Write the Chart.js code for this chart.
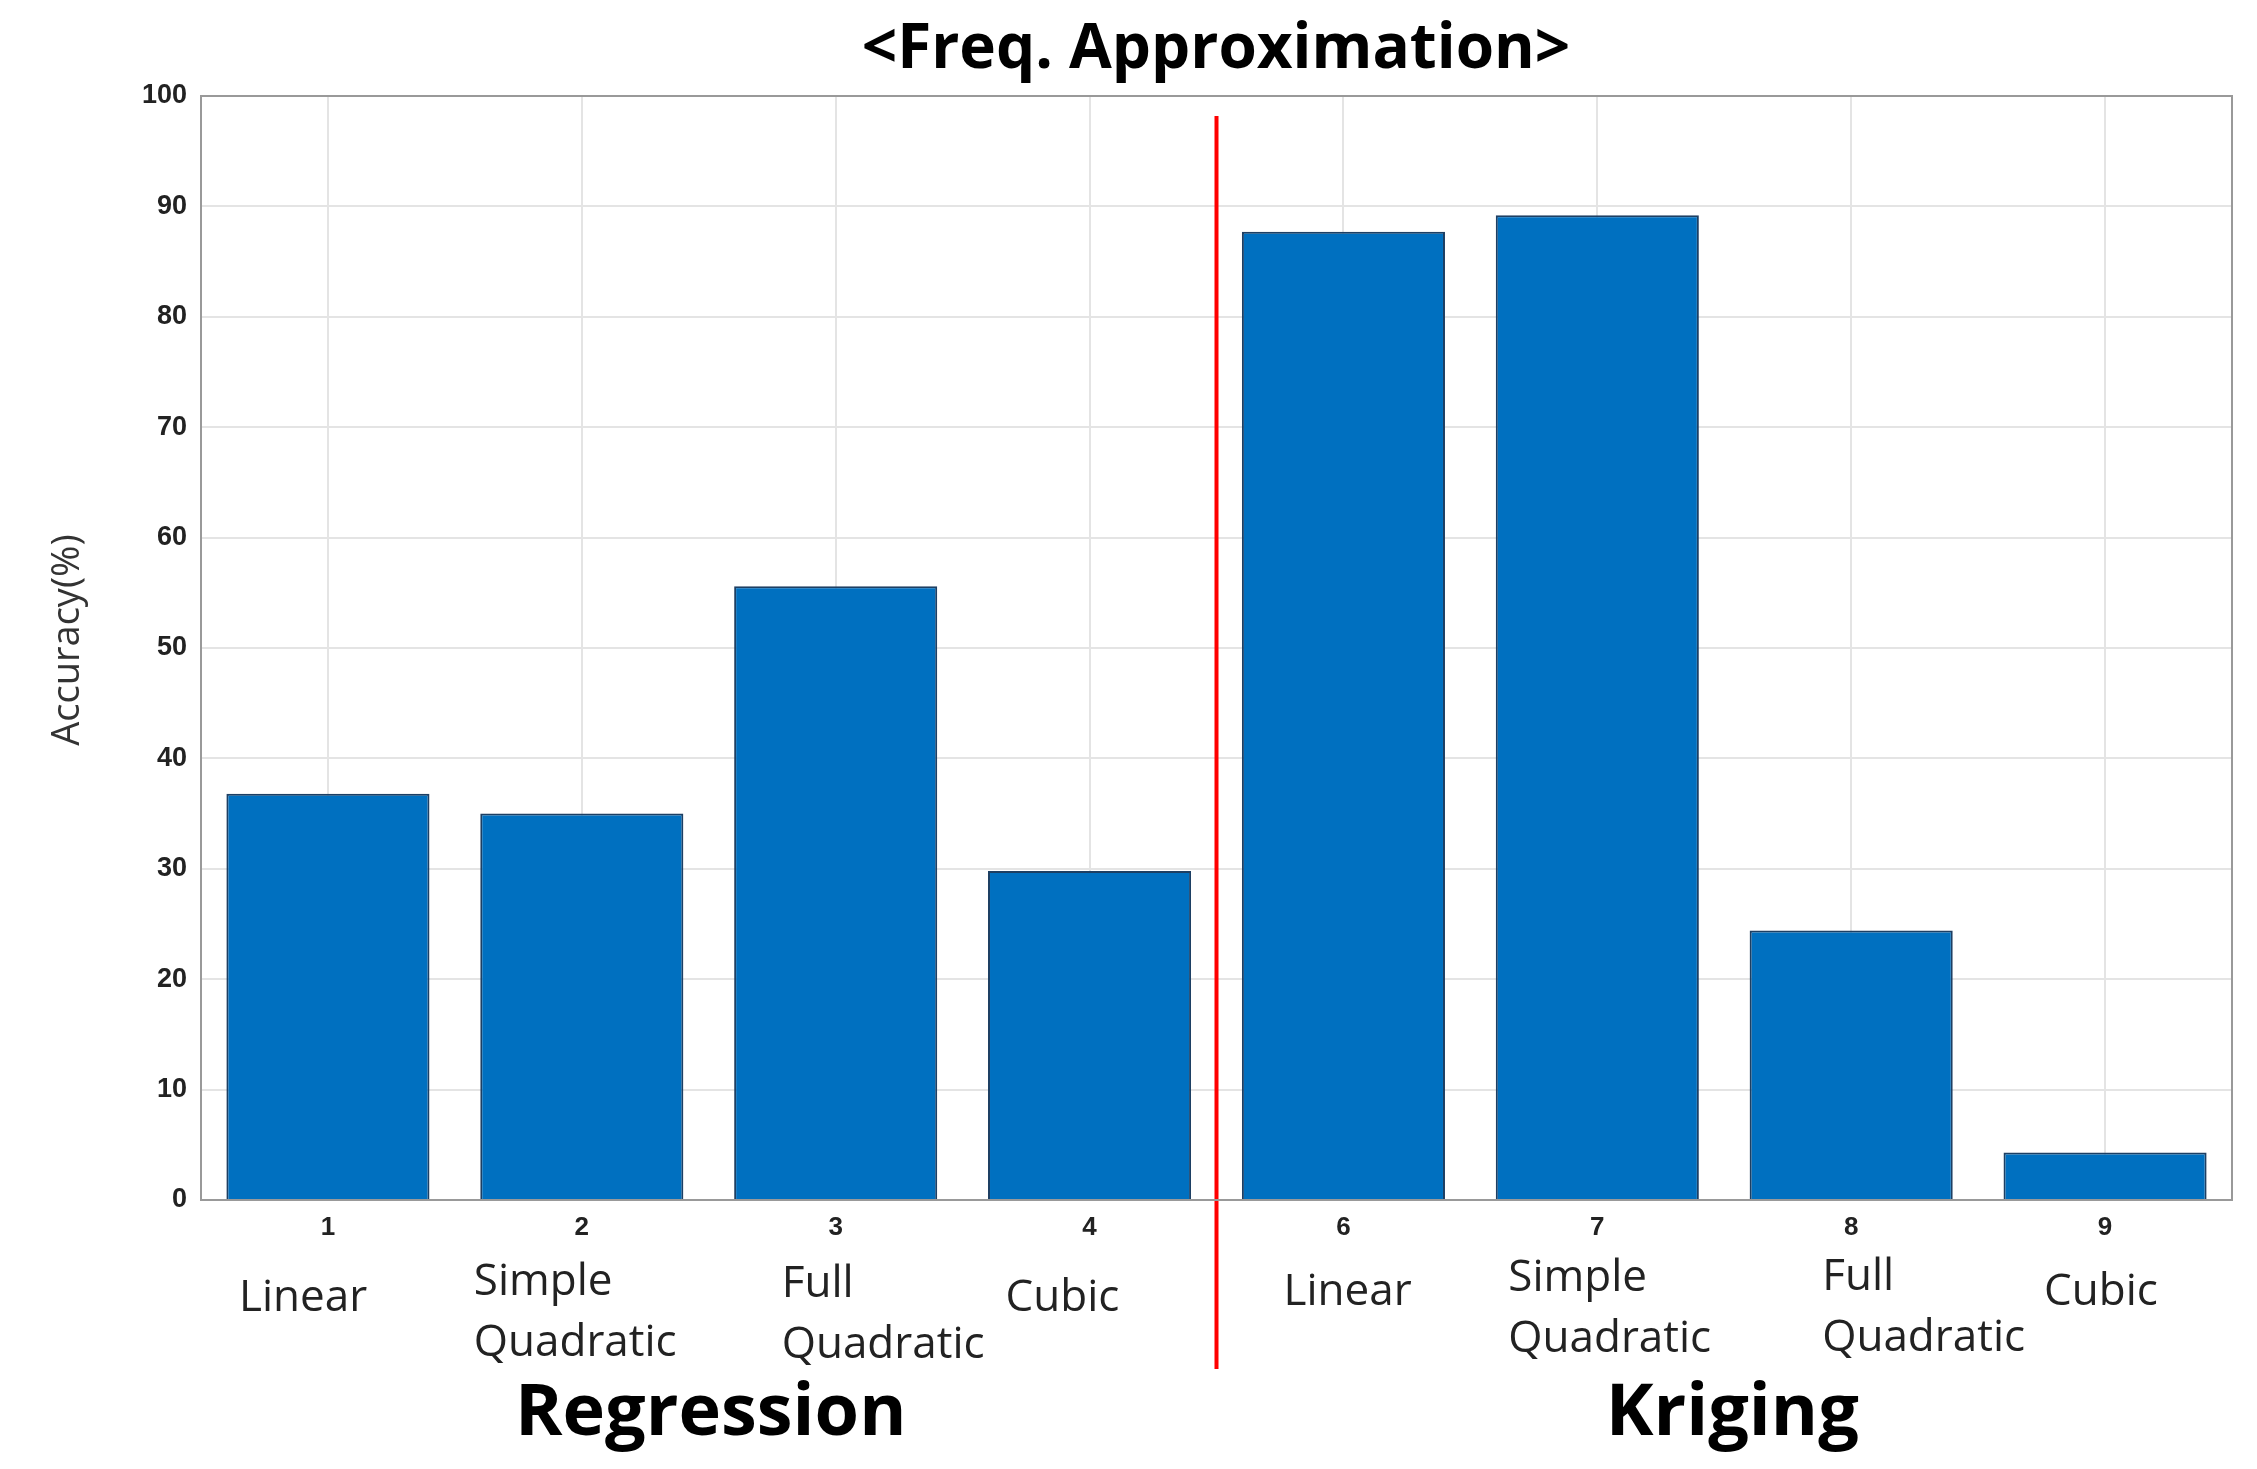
<!DOCTYPE html>
<html>
<head>
<meta charset="utf-8">
<script src="https://cdn.jsdelivr.net/npm/chart.js@4/dist/chart.umd.min.js"></script>
<style>
  html, body { margin: 0; padding: 0; background: #fff; }
  #wrap { width: 2257px; height: 1469px; }
</style>
</head>
<body>
<div id="wrap"><canvas id="c"></canvas></div>
<script>
// data
const categories = ['1', '2', '3', '4', '6', '7', '8', '9'];
const accuracy = [36.8, 35.0, 55.6, 29.8, 87.7, 89.2, 24.4, 4.3];
const methodNames = [['Linear'], ['Simple', 'Quadratic'], ['Full', 'Quadratic'], ['Cubic'],
                     ['Linear'], ['Simple', 'Quadratic'], ['Full', 'Quadratic'], ['Cubic']];
const groupNames = ['Regression', 'Kriging'];

// 라벨 위치 보정 (px)
const nameDx = [-89, -108, -54, -84, -60, -89, -29, -61];
const nameY = [1298, 1282, 1284, 1298, 1292, 1278, 1277, 1292];

const extras = {
  id: 'extras',
  afterDraw(chart) {
    const g = chart.ctx;
    const x = chart.scales.x;
    g.save();
    // title
    g.fillStyle = '#000';
    g.textAlign = 'center';
    g.textBaseline = 'middle';
    g.font = 'bold 62px "Open Sans", "DejaVu Sans", sans-serif';
    g.fillText('<Freq. Approximation>', 1216, 50);

    // y axis title
    g.save();
    g.translate(68, 640);
    g.rotate(-Math.PI / 2);
    g.font = '38px "Open Sans", sans-serif';
    g.fillStyle = '#333';
    g.fillText('Accuracy(%)', 0, 0);
    g.restore();

    // method names
    g.textAlign = 'left';
    g.fillStyle = '#222';
    g.font = '44px "Open Sans", "Noto Sans", sans-serif';
    methodNames.forEach((lines, i) => {
      const cx = x.getPixelForValue(i);
      lines.forEach((t, k) => g.fillText(t, cx + nameDx[i], nameY[i] + k * 61));
    });

    // group names
    g.textAlign = 'center';
    g.fillStyle = '#000';
    g.font = 'bold 72px "Open Sans", "Noto Sans", sans-serif';
    const mid0 = (x.getPixelForValue(1) + x.getPixelForValue(2)) / 2;
    const mid1 = (x.getPixelForValue(5) + x.getPixelForValue(6)) / 2;
    g.fillText(groupNames[0], mid0 + 2, 1414);
    g.fillText(groupNames[1], mid1 + 8, 1414);

    // red divider
    const sx = (x.getPixelForValue(3) + x.getPixelForValue(4)) / 2;
    g.strokeStyle = '#ff0000';
    g.lineWidth = 4;
    g.beginPath();
    g.moveTo(sx, 116);
    g.lineTo(sx, 1369);
    g.stroke();

    // box
    const a = chart.chartArea;
    g.strokeStyle = '#999';
    g.lineWidth = 2;
    g.strokeRect(a.left, a.top, a.right - a.left, a.bottom - a.top);
    g.restore();
  }
};

new Chart(document.getElementById('c'), {
  type: 'bar',
  data: {
    labels: categories,
    datasets: [{
      data: accuracy,
      backgroundColor: '#0070c0',
      borderColor: '#1d3f63',
      borderWidth: 2,
      barPercentage: 0.8,
      categoryPercentage: 1.0
    }]
  },
  options: {
    responsive: true,
    maintainAspectRatio: false,
    animation: false,
    layout: { padding: { top: 96, right: 25, left: 0, bottom: 0 } },
    plugins: { legend: { display: false }, tooltip: { enabled: false } },
    scales: {
      x: {
        afterFit: (s) => { s.height = 269; },
        grid: { color: '#e4e4e4', lineWidth: 2, offset: false, tickLength: 0 },
        border: { color: '#999', width: 2 },
        ticks: { color: '#222', padding: 12, font: { size: 26, weight: 'bold', family: 'Arial, "Liberation Sans"' } }
      },
      y: {
        min: 0, max: 100,
        afterFit: (s) => { s.width = 201; },
        grid: { color: '#e4e4e4', lineWidth: 2, tickLength: 0 },
        border: { color: '#999', width: 2 },
        ticks: { stepSize: 10, color: '#222', padding: 14, font: { size: 27, weight: 'bold', family: 'Arial, "Liberation Sans"' } }
      }
    }
  },
  plugins: [extras]
});
</script>
</body>
</html>
